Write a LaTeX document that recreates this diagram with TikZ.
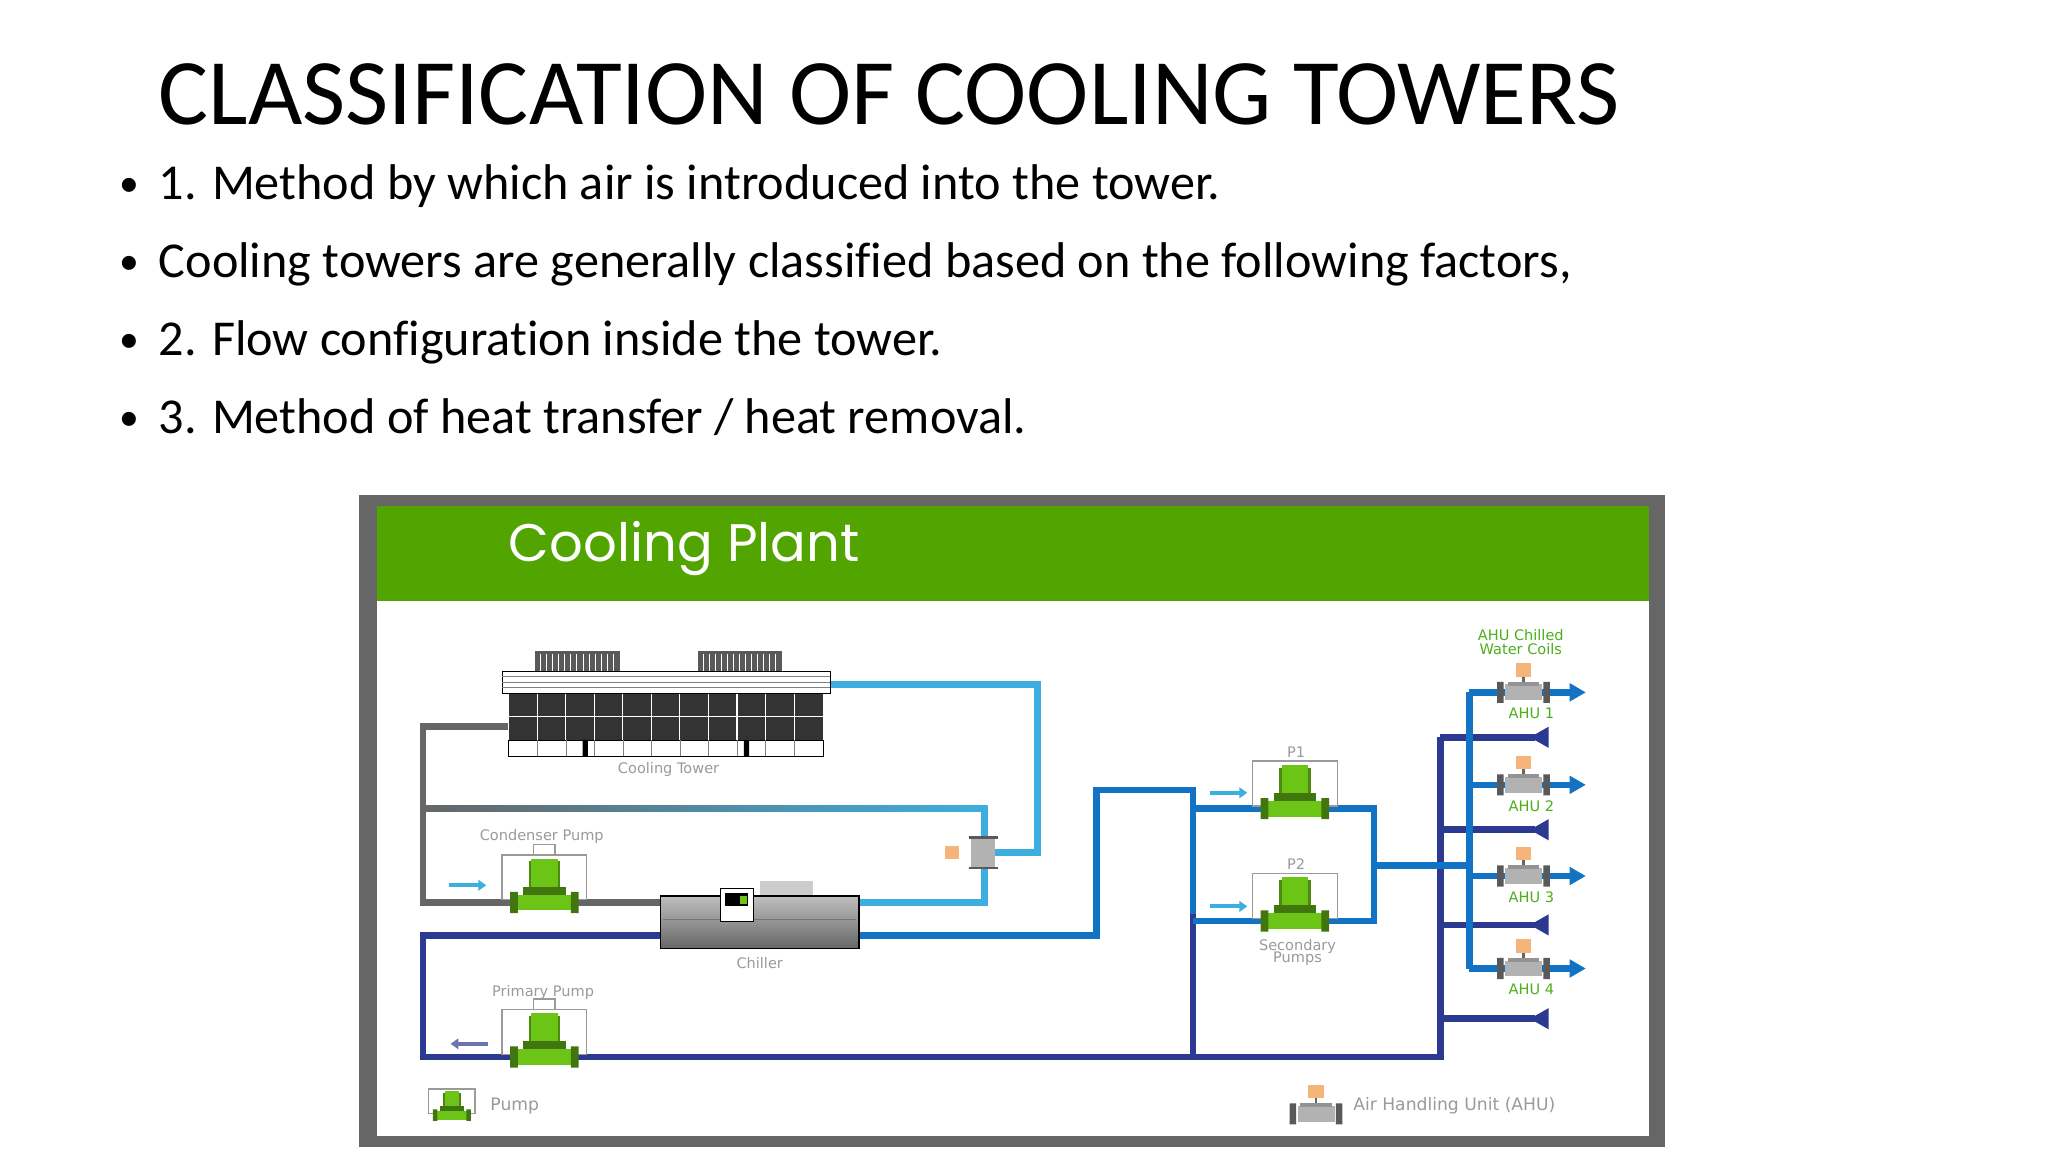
\documentclass[tikz,border=0pt]{standalone}
\usepackage{fontspec}
\usetikzlibrary{arrows.meta}
\setmainfont{Carlito}[Ligatures=NoCommon]
\newfontfamily\diag{DejaVu Sans}
\newfontfamily\ptitle{Poppins}
\definecolor{hdr}{HTML}{52A500}
\definecolor{lb}{HTML}{3DAEE0}
\definecolor{mb}{HTML}{1273C4}
\definecolor{nv}{HTML}{2B3990}
\definecolor{gp}{HTML}{666666}
\definecolor{pg}{HTML}{6CC417}
\definecolor{lbl}{HTML}{9A9A9A}
\definecolor{agr}{HTML}{4CAF1A}
\definecolor{org}{HTML}{F5B47A}
\tikzset{
 pipe/.style={line width=5pt},
 lbltxt/.style={font=\diag\fontsize{11}{12}\selectfont, text=lbl, inner sep=0pt, align=center},
 ahutxt/.style={font=\diag\fontsize{11}{12}\selectfont, text=agr, inner sep=0pt, align=center},
 bul/.style={font=\fontsize{38}{40}\selectfont, anchor=base west, inner sep=0pt},
 pumpbody/.pic={
   \draw[lbl, line width=1pt, fill=white] (-32,-36) rectangle (32,-2);
   \fill[pg!70!black] (-12,-31) rectangle (12,-10);
   \fill[pg] (-10,-33) rectangle (10,-12);
   \fill[pg!60!black] (-16,-12) rectangle (16,-6);
   \fill[pg] (-22,-6) rectangle (22,6);
   \fill[pg!60!black] (-26,-8) rectangle (-20,8) (20,-8) rectangle (26,8);
 },
 pump/.pic={
   \draw[lbl, line width=1pt, fill=white] (-8,-44) rectangle (8,-34);
   \pic {pumpbody};
   \draw[lbl, line width=1pt, fill=white] (-8,-44) rectangle (8,-36);
 },
 ahu/.pic={
   \fill[org] (-6,-22) rectangle (6,-12);
   \draw[gp, line width=2pt] (0,-12) -- (0,-6);
   \fill[gray!60] (-14,-6) rectangle (14,6);
   \fill[gray!70!black] (-20,-8) rectangle (-15,8) (15,-8) rectangle (20,8);
   \fill[gray!85] (-12,-8) rectangle (12,-5);
 },
}
\begin{document}
\begin{tikzpicture}[x=1pt,y=-1pt]
\useasboundingbox (0,0) rectangle (1550,872);
\fill[white] (0,0) rectangle (1550,872);
\node[font=\fontsize{71}{74}\selectfont, anchor=base west, inner sep=0pt] (title) at (120,94) {CLASSIFICATION OF COOLING TOWERS};
\foreach \t [count=\i] in {1. Method by which air is introduced into the tower.,
 {Cooling towers are generally classified based on the following factors,},
 2. Flow configuration inside the tower.,
 3. Method of heat transfer / heat removal.}{
  \node[bul] (b\i) at (120,{92+59*\i}) {\t};
  \node[font=\fontsize{30}{32}\selectfont, anchor=base, inner sep=0pt] (d\i) at (98,{90+59*\i}) {•};
}
% frame
\fill[gp] (272,375) rectangle (1260,868);
\fill[white] (285,383) rectangle (1248,860);
\fill[hdr] (285,383) rectangle (1248,455);
\node[font=\ptitle\fontsize{40}{42}\selectfont, text=white, anchor=base west, inner sep=0pt] (cp) at (385,425) {Cooling Plant};
% grey condenser pipe
\draw[pipe, gp] (386,550) -- (320,550) -- (320,683) -- (500,683);
\shade[left color=gp, right color=lb] (318,609.5) rectangle (747.5,614.5);
\draw[pipe, lb, line join=miter] (745,612) -- (745,683) -- (650,683);
\draw[pipe, lb] (628,518) -- (785,518) -- (785,645) -- (745,645);
% primary navy
\draw[pipe, nv] (500,708) -- (320,708) -- (320,800) -- (1090,800) -- (1090,558);
\draw[pipe, nv] (903,690) -- (903,800);
\foreach \y in {558,628,700,771}{
  \draw[pipe, nv] (1090,\y) -- (1162,\y);
  \fill[nv] (1158,\y) -- (1172,{\y-8}) -- (1172,{\y+8}) -- cycle;
}
% medium blue
\draw[pipe, mb] (650,708) -- (830,708) -- (830,598) -- (903,598) -- (903,692);
\draw[pipe, mb] (903,612) -- (1040,612) -- (1040,697) -- (903,697);
\draw[pipe, mb] (1040,655) -- (1112,655);
\draw[pipe, mb] (1112,524) -- (1112,733);
\foreach \y/\n in {524/1,594/2,663/3,733/4}{
  \draw[pipe, mb] (1112,\y) -- (1190,\y);
  \fill[mb] (1200,\y) -- (1188,{\y-7}) -- (1188,{\y+7}) -- cycle;
  \pic at (1153,\y) {ahu};
  \node[ahutxt] (ahu\n) at (1159,{\y+16}) {AHU \n};
}
\node[ahutxt] (coils) at (1151,486) {AHU Chilled\\[-2pt]Water Coils};
% cooling tower
\foreach \x in {405,528}{
  \fill[gray!70!black] (\x,493) rectangle ({\x+64},510);
  \foreach \k in {0,...,12}{\draw[white, line width=0.6pt] ({\x+4+\k*4.6},495) -- ({\x+4+\k*4.6},509);}
}
\draw[black, fill=white] (380,508) rectangle (628,525);
\foreach \yy in {512,516,520}{\draw[gray] (380,\yy) -- (628,\yy);}
\fill[black!80] (385,525) rectangle (623,560);
\foreach \k in {0,...,10}{\draw[white, line width=0.8pt] ({385+21.6*\k},525) -- ({385+21.6*\k},572);}
\draw[white, line width=0.8pt] (385,542) -- (623,542);
\draw[black, fill=white] (385,560) rectangle (623,572);
\foreach \k in {1,...,10}{\draw[gray] ({385+21.6*\k},560) -- ({385+21.6*\k},572);}
\fill[black] (441,560) rectangle (445,572) (563,560) rectangle (567,572);
\node[lbltxt] (ctl) at (506,582) {Cooling Tower};
% valve
\fill[org] (715,640) rectangle (726,650);
\fill[gray!60] (735,633) rectangle (753,658);
\draw[gray!70!black, line width=2pt] (733,634) -- (755,634) (733,657) -- (755,657);
% chiller
\fill[gray!40] (575,667) rectangle (615,685);
\shade[top color=gray!50, bottom color=gray!80!black] (500,678) rectangle (650,718);
\draw[black, line width=1pt] (500,678) rectangle (650,718);
\draw[gray!90!black] (502,696) -- (648,696);
\draw[black, fill=white] (545,672) rectangle (570,697);
\fill[black] (549,676) rectangle (566,686);
\fill[pg] (560,678) rectangle (565,684);
\node[lbltxt] (chl) at (575,729) {Chiller};
% pumps
\pic at (412,683) {pump};
\pic at (412,800) {pump};
\pic at (980,612) {pumpbody};
\pic at (980,697) {pumpbody};
\node[lbltxt] (cpl) at (410,633) {Condenser Pump};
\node[lbltxt] (ppl) at (411,751) {Primary Pump};
\node[lbltxt] (p1) at (981,569) {P1};
\node[lbltxt] (p2) at (981,654) {P2};
\node[lbltxt] (sp) at (982,721) {Secondary\\[-3pt]Pumps};
% flow arrows
\draw[lb, line width=3pt, -{Triangle[length=6pt,width=8pt]}] (340,670) -- (368,670);
\draw[lb, line width=3pt, -{Triangle[length=6pt,width=8pt]}] (916,600) -- (944,600);
\draw[lb, line width=3pt, -{Triangle[length=6pt,width=8pt]}] (916,686) -- (944,686);
\draw[nv!70, line width=3pt, -{Triangle[length=6pt,width=8pt]}] (369,790) -- (341,790);
% legend
\pic[scale=0.55] at (342,844) {pumpbody};
\node[lbltxt, anchor=west, font=\diag\fontsize{13}{14}\selectfont] (lp) at (371,837) {Pump};
\pic at (996,843) {ahu};
\node[lbltxt, anchor=west, font=\diag\fontsize{13}{14}\selectfont] (la) at (1024,837) {Air Handling Unit (AHU)};
\end{tikzpicture}
\end{document}
